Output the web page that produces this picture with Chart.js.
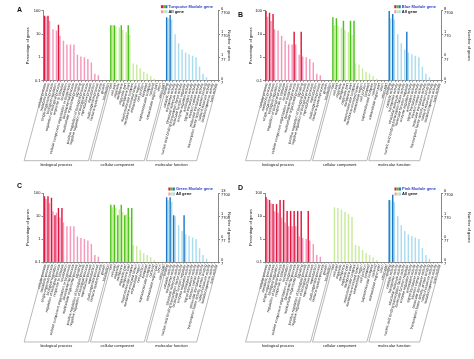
<!DOCTYPE html>
<html>
<head>
<meta charset="utf-8">
<script src="https://cdn.jsdelivr.net/npm/chart.js@4.4.1/dist/chart.umd.min.js"></script>
<style>
  body { margin: 0; background: #fff; width: 474px; height: 359px; position: relative; overflow: hidden; }
  .panel { position: absolute; }
</style>
</head>
<body>
<div class="panel" style="left:0;top:0;width:237px;height:181px"><canvas id="chartA"></canvas></div>
<div class="panel" style="left:237px;top:0;width:237px;height:181px"><canvas id="chartB"></canvas></div>
<div class="panel" style="left:0;top:181px;width:237px;height:178px"><canvas id="chartC"></canvas></div>
<div class="panel" style="left:237px;top:181px;width:237px;height:178px"><canvas id="chartD"></canvas></div>
<script>
// GO terms (level 2)
const bpTerms = ["cellular process", "metabolic process", "single-organism process", "biological regulation",
  "regulation of biological process", "response to stimulus", "localization",
  "cellular component organization or biogenesis", "developmental process", "multicellular organismal process",
  "signaling", "positive regulation of biological process", "negative regulation of biological process",
  "reproductive process", "reproduction", "multi-organism process", "immune system process", "growth", "locomotion"];
const ccTerms = ["cell", "cell part", "organelle", "membrane", "organelle part", "membrane part",
  "macromolecular complex", "membrane-enclosed lumen", "extracellular region", "cell junction", "symplast",
  "supramolecular complex", "nucleoid", "extracellular region part", "virion", "virion part"];
const mfTerms = ["binding", "catalytic activity", "transporter activity", "structural molecule activity",
  "nucleic acid binding transcription factor activity", "molecular function regulator", "enzyme regulator activity",
  "antioxidant activity", "signal transducer activity", "electron carrier activity", "molecular transducer activity",
  "transcription factor activity, protein binding", "nutrient reservoir activity", "metallochaperone activity",
  "toxin activity"];
const groupNames = ["biological process", "cellular component", "molecular function"];

// all genes (background), % of genes
const allBP = [55, 36, 16, 14, 8.5, 5.2, 3.6, 3.6, 3.6, 1.3, 1.1, 1.0, 0.85, 0.6, 0.2, 0.17, null, null, null];
const allCC = [24, 22, 19, 15, 12, 9, 0.55, 0.5, 0.33, 0.24, 0.2, 0.16, 0.12, null, null, null];
const allMF = [48, 42, 9.7, 4, 2.2, 1.6, 1.35, 1.17, 1.0, 0.4, 0.2, 0.14, null, null, null];

// module genes, % of genes
const turquoiseBP = [61, 61, null, null, 25, null, null, null, null, null, null, null, null, null, null, null, null, null, null];
const turquoiseCC = [24, 24, null, 24, null, 24, null, null, null, null, null, null, null, null, null, null];
const turquoiseMF = [52, 65, null, null, null, null, null, null, null, null, null, null, null, null, null];

const blueBP = [98, 82, 72, null, null, null, null, null, 12.6, null, 12.6, null, null, null, null, null, null, null, null];
const blueCC = [52, 47, null, 37, null, 37, 37, null, null, null, null, null, null, null, null, null];
const blueMF = [97, 72, null, null, null, 12.6, null, null, null, null, null, null, null, null, null];

const greenBP = [72, 72, 62, 10.7, 22, 22, null, null, null, null, null, null, null, null, null, null, null, null, null];
const greenCC = [31, 31, 10.7, 31, 10.7, 22, 22, null, null, null, null, null, null, null, null, null];
const greenMF = [65, 65, 10.7, null, null, 10.7, null, null, null, null, null, null, null, null, null];

const pinkBP = [67, 50, 33, 33, 50, 50, 16.7, 16.7, 16.7, 16.7, 16.7, null, 16.7, null, null, null, null, null, null];
const pinkCC = [null, null, null, null, null, null, null, null, null, null, null, null, null, null, null, null];
const pinkMF = [50, 83, null, null, null, null, null, null, null, null, null, null, null, null, null];

// axis ticks
const percentTicks = [0.1, 1, 10, 100];
const turquoiseCounts = [["0", "7"], ["1", "77"], ["1", "770"], ["6", "7700"]];
const blueCounts = [["0", "7"], ["0", "77"], ["1", "770"], ["8", "7700"]];
const greenCounts = [["0", "7"], ["0", "77"], ["1", "770"], ["13", "7700"]];
const pinkCounts = [["0", "7"], ["0", "77"], ["1", "770"], ["6", "7700"]];

const darkColors = ['#e2173d', '#49c21c', '#1f78c6'];
const lightColors = ['#f597ba', '#c9eb9c', '#a8dcef'];

const categories = bpTerms.concat(ccTerms, mfTerms);
const groupStarts = [0, bpTerms.length, bpTerms.length + ccTerms.length, categories.length];
const groupOf = categories.map((c, i) => i < groupStarts[1] ? 0 : (i < groupStarts[2] ? 1 : 2));
const allGenes = allBP.concat(allCC, allMF);

Chart.defaults.font.family = '"Liberation Sans", Arial, sans-serif';
Chart.defaults.color = '#222';

const slant = Math.tan(15 * Math.PI / 180);

function makePanel(id, letter, moduleName, moduleValues, countLabels, g) {
  // letter, legend and group brackets
  const decor = {
    id: 'decor',
    afterDraw(chart) {
      const ctx = chart.ctx;
      const area = chart.chartArea;
      const xs = chart.scales.x;
      ctx.save();

      ctx.fillStyle = '#111';
      ctx.font = 'bold 7px "Liberation Sans", Arial, sans-serif';
      ctx.textBaseline = 'middle';
      ctx.fillText(letter, g.letterX, g.letterY);

      // legend
      ctx.font = 'bold 4px "Liberation Sans", Arial, sans-serif';
      const label = moduleName + ' Module gene';
      const tw = ctx.measureText(label).width;
      const lx = area.right - 5 - tw - 7.5;
      const ly = area.top - 5.5;
      for (let k = 0; k < 3; k++) {
        ctx.fillStyle = darkColors[k];
        ctx.fillRect(lx + k * 2.2, ly, 2.1, 3);
        ctx.fillStyle = lightColors[k];
        ctx.fillRect(lx + k * 2.2, ly + 5, 2.1, 3);
      }
      ctx.fillStyle = '#2b3ccf';
      ctx.fillText(label, lx + 7.5, ly + 1.6);
      ctx.fillStyle = '#111';
      ctx.fillText('All gene', lx + 7.5, ly + 6.6);

      // group brackets under the rotated labels
      const step = (xs.right - xs.left) / categories.length;
      const y0 = area.bottom + 4;
      const y1 = area.bottom + 80;
      const dx = (y1 - y0) * slant;
      ctx.strokeStyle = '#8a8a8a';
      ctx.lineWidth = 0.6;
      ctx.font = '4px "Liberation Sans", Arial, sans-serif';
      ctx.textAlign = 'center';
      for (let k = 0; k < 3; k++) {
        const a = xs.left + groupStarts[k] * step + 1;
        const b = xs.left + groupStarts[k + 1] * step - 1;
        ctx.beginPath();
        ctx.moveTo(a, y0);
        ctx.lineTo(a - dx, y1);
        ctx.lineTo(b - dx, y1);
        ctx.lineTo(b, y0);
        ctx.stroke();
        ctx.fillStyle = '#111';
        ctx.fillText(groupNames[k], (a + b) / 2 - dx, y1 + 4);
      }
      ctx.restore();
    }
  };

  new Chart(document.getElementById(id), {
    type: 'bar',
    data: {
      labels: categories,
      datasets: [
        {
          label: moduleName + ' Module gene',
          data: moduleValues,
          backgroundColor: groupOf.map(k => darkColors[k]),
          yAxisID: 'y'
        },
        {
          label: 'All gene',
          data: allGenes,
          backgroundColor: groupOf.map(k => lightColors[k]),
          yAxisID: 'y'
        }
      ]
    },
    options: {
      responsive: true,
      maintainAspectRatio: false,
      animation: false,
      layout: { padding: { top: g.top, left: g.padLeft, right: g.padRight, bottom: 0 } },
      plugins: { legend: { display: false }, tooltip: { enabled: false } },
      datasets: { bar: { categoryPercentage: 0.86, barPercentage: 0.95 } },
      scales: {
        x: {
          grid: { drawOnChartArea: false, tickLength: 1.5, color: '#999' },
          border: { color: '#888' },
          ticks: { autoSkip: false, minRotation: 75, maxRotation: 75, padding: 0.5, font: { size: 3.6 }, color: '#000' },
          afterFit: s => { s.height = g.xHeight; }
        },
        y: {
          type: 'logarithmic',
          min: 0.1,
          max: 100,
          afterBuildTicks: s => { s.ticks = percentTicks.map(v => ({ value: v })); },
          grid: { drawOnChartArea: false, tickLength: 2, color: '#888' },
          border: { color: '#888' },
          ticks: { padding: 1, font: { size: 4 }, color: '#111', callback: v => String(v) },
          title: { display: true, text: 'Percentage of genes', font: { size: 4 }, color: '#111', padding: 0 },
          afterFit: s => { s.width = g.yWidth; }
        },
        y2: {
          type: 'logarithmic',
          position: 'right',
          min: 0.1,
          max: 100,
          afterBuildTicks: s => { s.ticks = percentTicks.map(v => ({ value: v })); },
          grid: { drawOnChartArea: false, tickLength: 2, color: '#888' },
          border: { color: '#888' },
          ticks: { padding: 1, font: { size: 4, lineHeight: 1.15 }, color: '#111', callback: (v, i) => countLabels[i] },
          title: { display: true, text: 'Number of genes', font: { size: 4 }, color: '#111', padding: 0 },
          afterFit: s => { s.width = g.y2Width; }
        }
      }
    },
    plugins: [decor]
  });
}

makePanel('chartA', 'A', 'Turquoise', turquoiseBP.concat(turquoiseCC, turquoiseMF), turquoiseCounts,
  { top: 10.7, padLeft: 25, padRight: 5, yWidth: 18.5, y2Width: 14, xHeight: 100.3, letterX: 17, letterY: 10 });
makePanel('chartB', 'B', 'Blue', blueBP.concat(blueCC, blueMF), blueCounts,
  { top: 10.7, padLeft: 11, padRight: 2, yWidth: 17, y2Width: 31, xHeight: 100.3, letterX: 1, letterY: 15 });
makePanel('chartC', 'C', 'Green', greenBP.concat(greenCC, greenMF), greenCounts,
  { top: 12, padLeft: 25, padRight: 5, yWidth: 18.5, y2Width: 14, xHeight: 97, letterX: 17, letterY: 5 });
makePanel('chartD', 'D', 'Pink', pinkBP.concat(pinkCC, pinkMF), pinkCounts,
  { top: 12, padLeft: 11, padRight: 2, yWidth: 17, y2Width: 31, xHeight: 97, letterX: 1, letterY: 7 });
</script>
</body>
</html>
